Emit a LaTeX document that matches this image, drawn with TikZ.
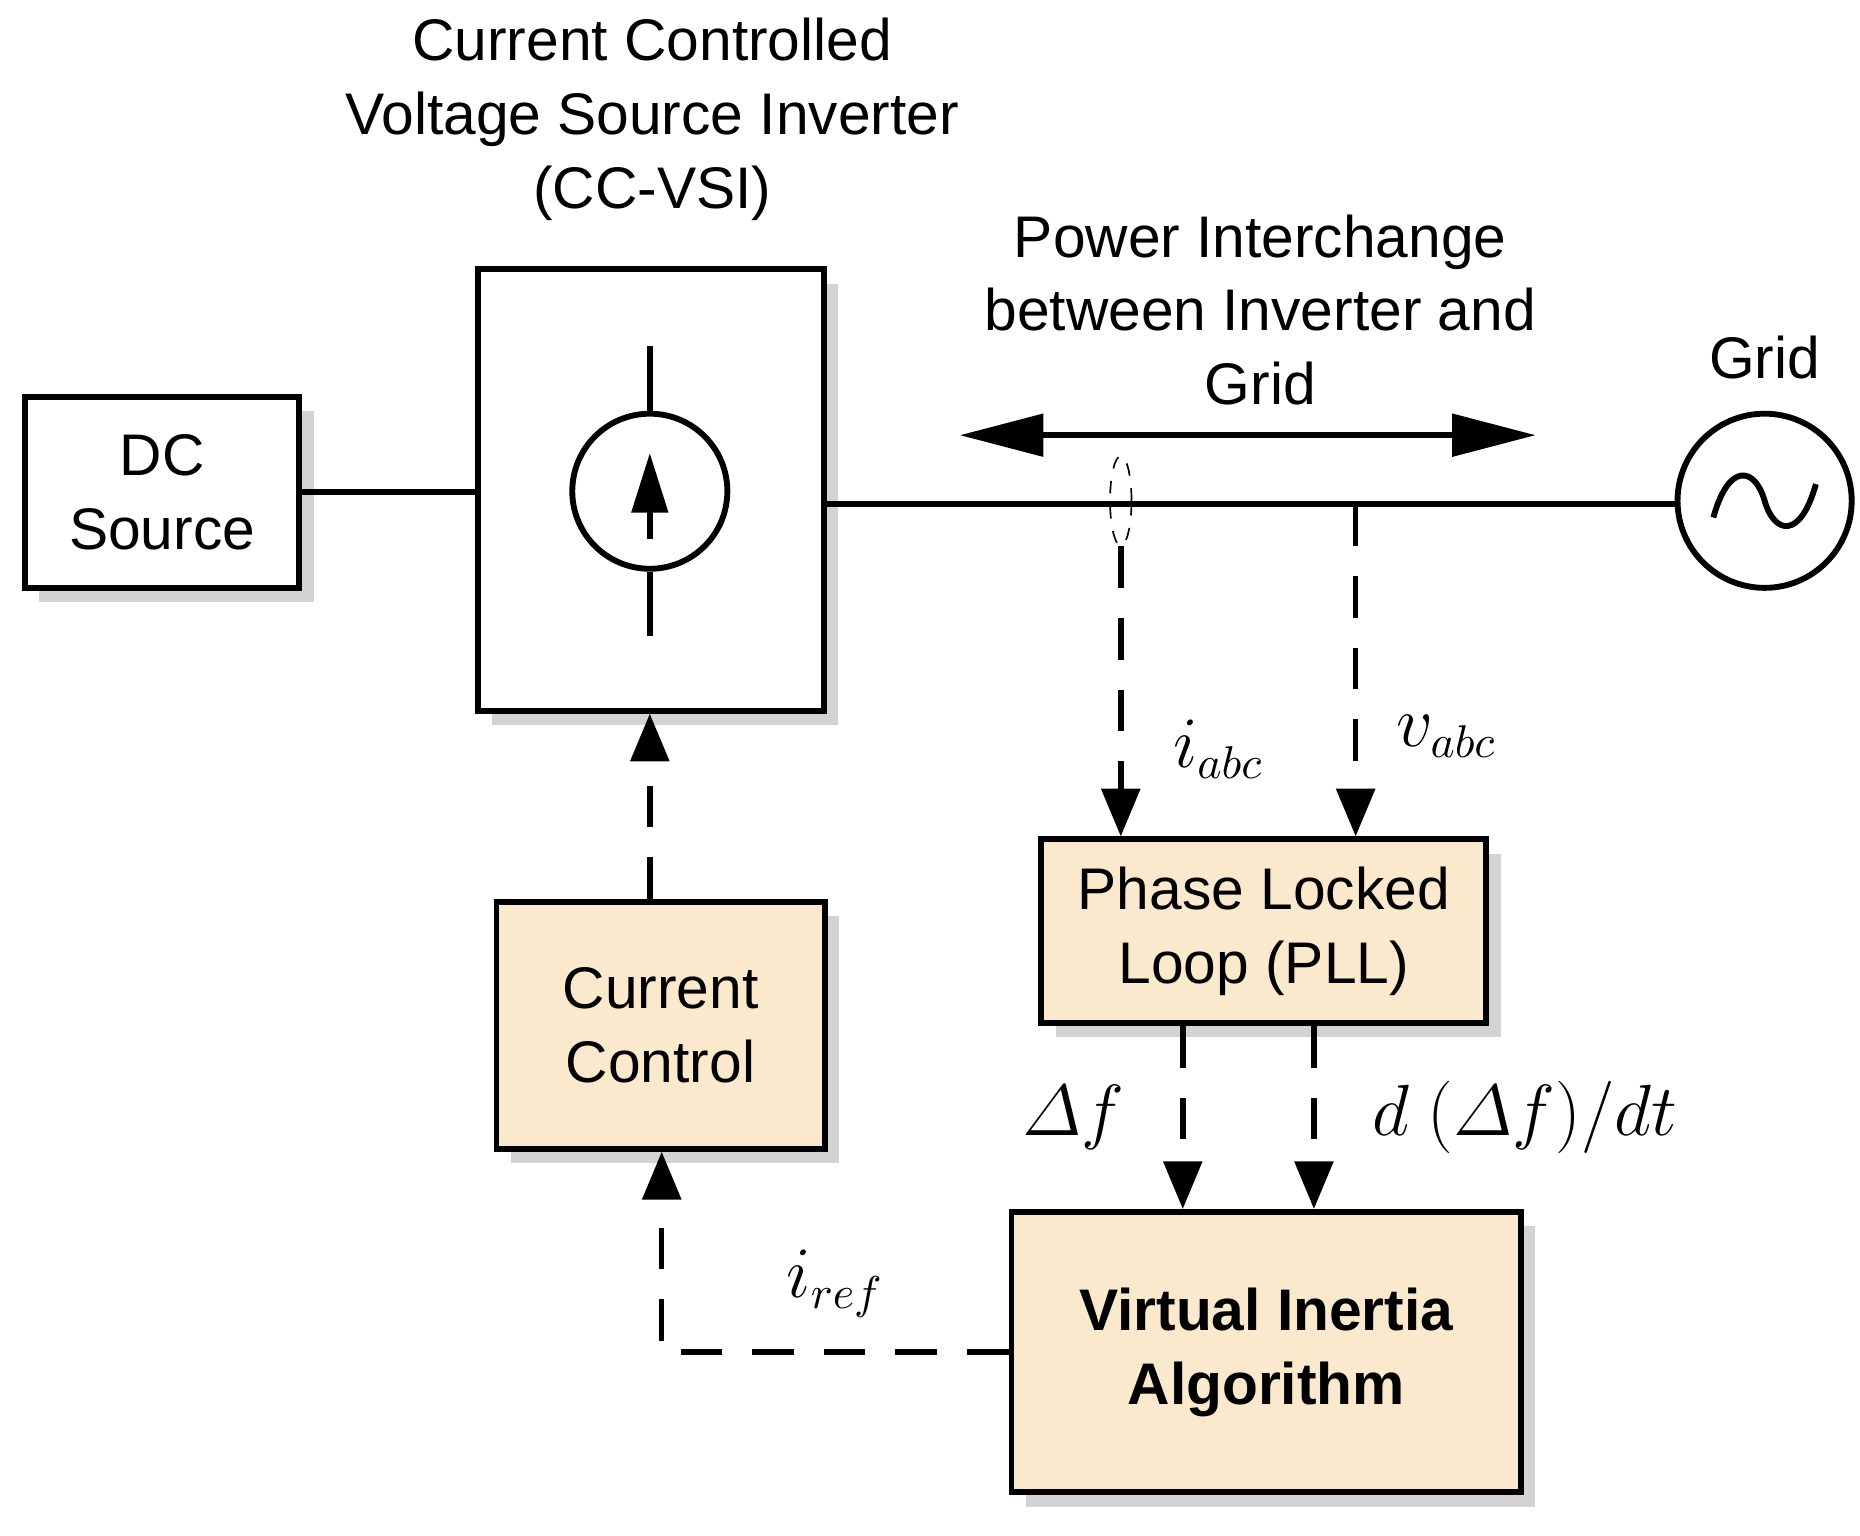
\documentclass[tikz,border=0pt]{standalone}
\usepackage{amsmath}
\usepackage{fontspec}
\setmainfont{Liberation Sans}
\usetikzlibrary{arrows.meta,shadows,positioning,shapes.geometric}
\definecolor{tan}{RGB}{250,233,204}
\tikzset{
  blk/.style={draw, line width=1.4pt, fill=white, drop shadow={opacity=0.35, shadow xshift=1.2mm, shadow yshift=-1.2mm}, align=center, font=\fontsize{14}{17.6}\selectfont},
  ctl/.style={blk, fill=tan},
  sig/.style={dashed, line width=1.3pt, dash pattern=on 3.5mm off 2.5mm, -{Triangle[length=4mm,width=3.2mm]}},
  lbl/.style={font=\fontsize{16}{18}\selectfont},
  txt/.style={align=center, font=\fontsize{14}{17.6}\selectfont}
}
\begin{document}
\begin{tikzpicture}[x=0.01cm,y=-0.01cm]
        \useasboundingbox (0,0) rectangle (1560,1288);

        % blocks
        \node[blk, minimum width=2.3cm, minimum height=1.6cm] (dc) at (136,413) {DC\\Source};
        \node[blk, minimum width=2.9cm, minimum height=3.7cm] (vsi) at (546,411) {};
        \node[ctl, minimum width=2.75cm, minimum height=2.07cm] (cc) at (554,860) {Current\\Control};
        \node[ctl, minimum width=3.73cm, minimum height=1.54cm] (pll) at (1060,781) {Phase Locked\\Loop (PLL)};
        \node[ctl, minimum width=4.27cm, minimum height=2.35cm, font=\fontsize{14}{17.6}\selectfont\bfseries] (via) at (1062,1134) {Virtual Inertia\\Algorithm};

        \node[txt] (vsit) at (547,100) {Current Controlled\\Voltage Source Inverter\\(CC-VSI)};
        \node[txt] (pit) at (1057,260) {Power Interchange\\between Inverter and\\Grid};

        % current source symbol
        \node[draw, circle, line width=1.4pt, minimum size=1.3cm] (src) at (545,412) {};
        \draw[line width=1.4pt] (545,290) -- (src.north);
        \draw[line width=1.4pt] (src.south) -- (545,533);
        \draw[line width=1.4pt, -{Triangle[length=5mm,width=3mm]}] (545,452) -- (545,380);

        % grid source
        \node[draw, circle, line width=1.4pt, minimum size=1.46cm] (grid) at (1480,420) {};
        \node[txt] (gridt) at (1480,300) {Grid};
        \draw[line width=1.4pt] (1437,434) .. controls (1450,387) and (1472,392) .. (1480,420)
                                          .. controls (1488,448) and (1510,453) .. (1523,406);

        % power lines
        \draw[line width=1.4pt] (dc.east) -- (vsi.west |- dc.east);
        \coordinate (busl) at (693,423);
        \draw[line width=1.4pt] (busl) -- (grid.west |- busl);
        \coordinate (pl) at (805,365);
        \coordinate (pr) at (1288,365);
        \draw[line width=1.4pt, {Triangle[length=7mm,width=3.5mm]}-{Triangle[length=7mm,width=3.5mm]}] (pl) -- (pr);

        % measurements
        \node[draw, dashed, ellipse, thin, minimum width=0.18cm, minimum height=0.75cm, inner sep=0] (ct) at (940,420) {};
        \coordinate (vt) at (1137,423);
        \draw[sig] (ct.south) -- (pll.north -| ct.south) node[pos=0.7, right=0.3cm, lbl] {$i_{abc}$};
        \draw[sig] (vt) -- (pll.north -| vt) node[pos=0.7, right=0.2cm, lbl] {$v_{abc}$};

        \draw[sig] (pll.south -| 992,0) -- (via.north -| 992,0) node[midway, left=0.35cm, lbl] {$\varDelta f$};
        \draw[sig] (pll.south -| 1102,0) -- (via.north -| 1102,0) node[midway, right=0.35cm, lbl] {$d\ (\varDelta f)/dt$};

        \draw[sig] (via.west) -| (cc.south -| 555,0) node[pos=0.25, above=0.15cm, lbl] {$i_{ref}$};
        \draw[sig] (cc.north -| 545,0) -- (vsi.south -| 545,0);
    \end{tikzpicture}
\end{document}
